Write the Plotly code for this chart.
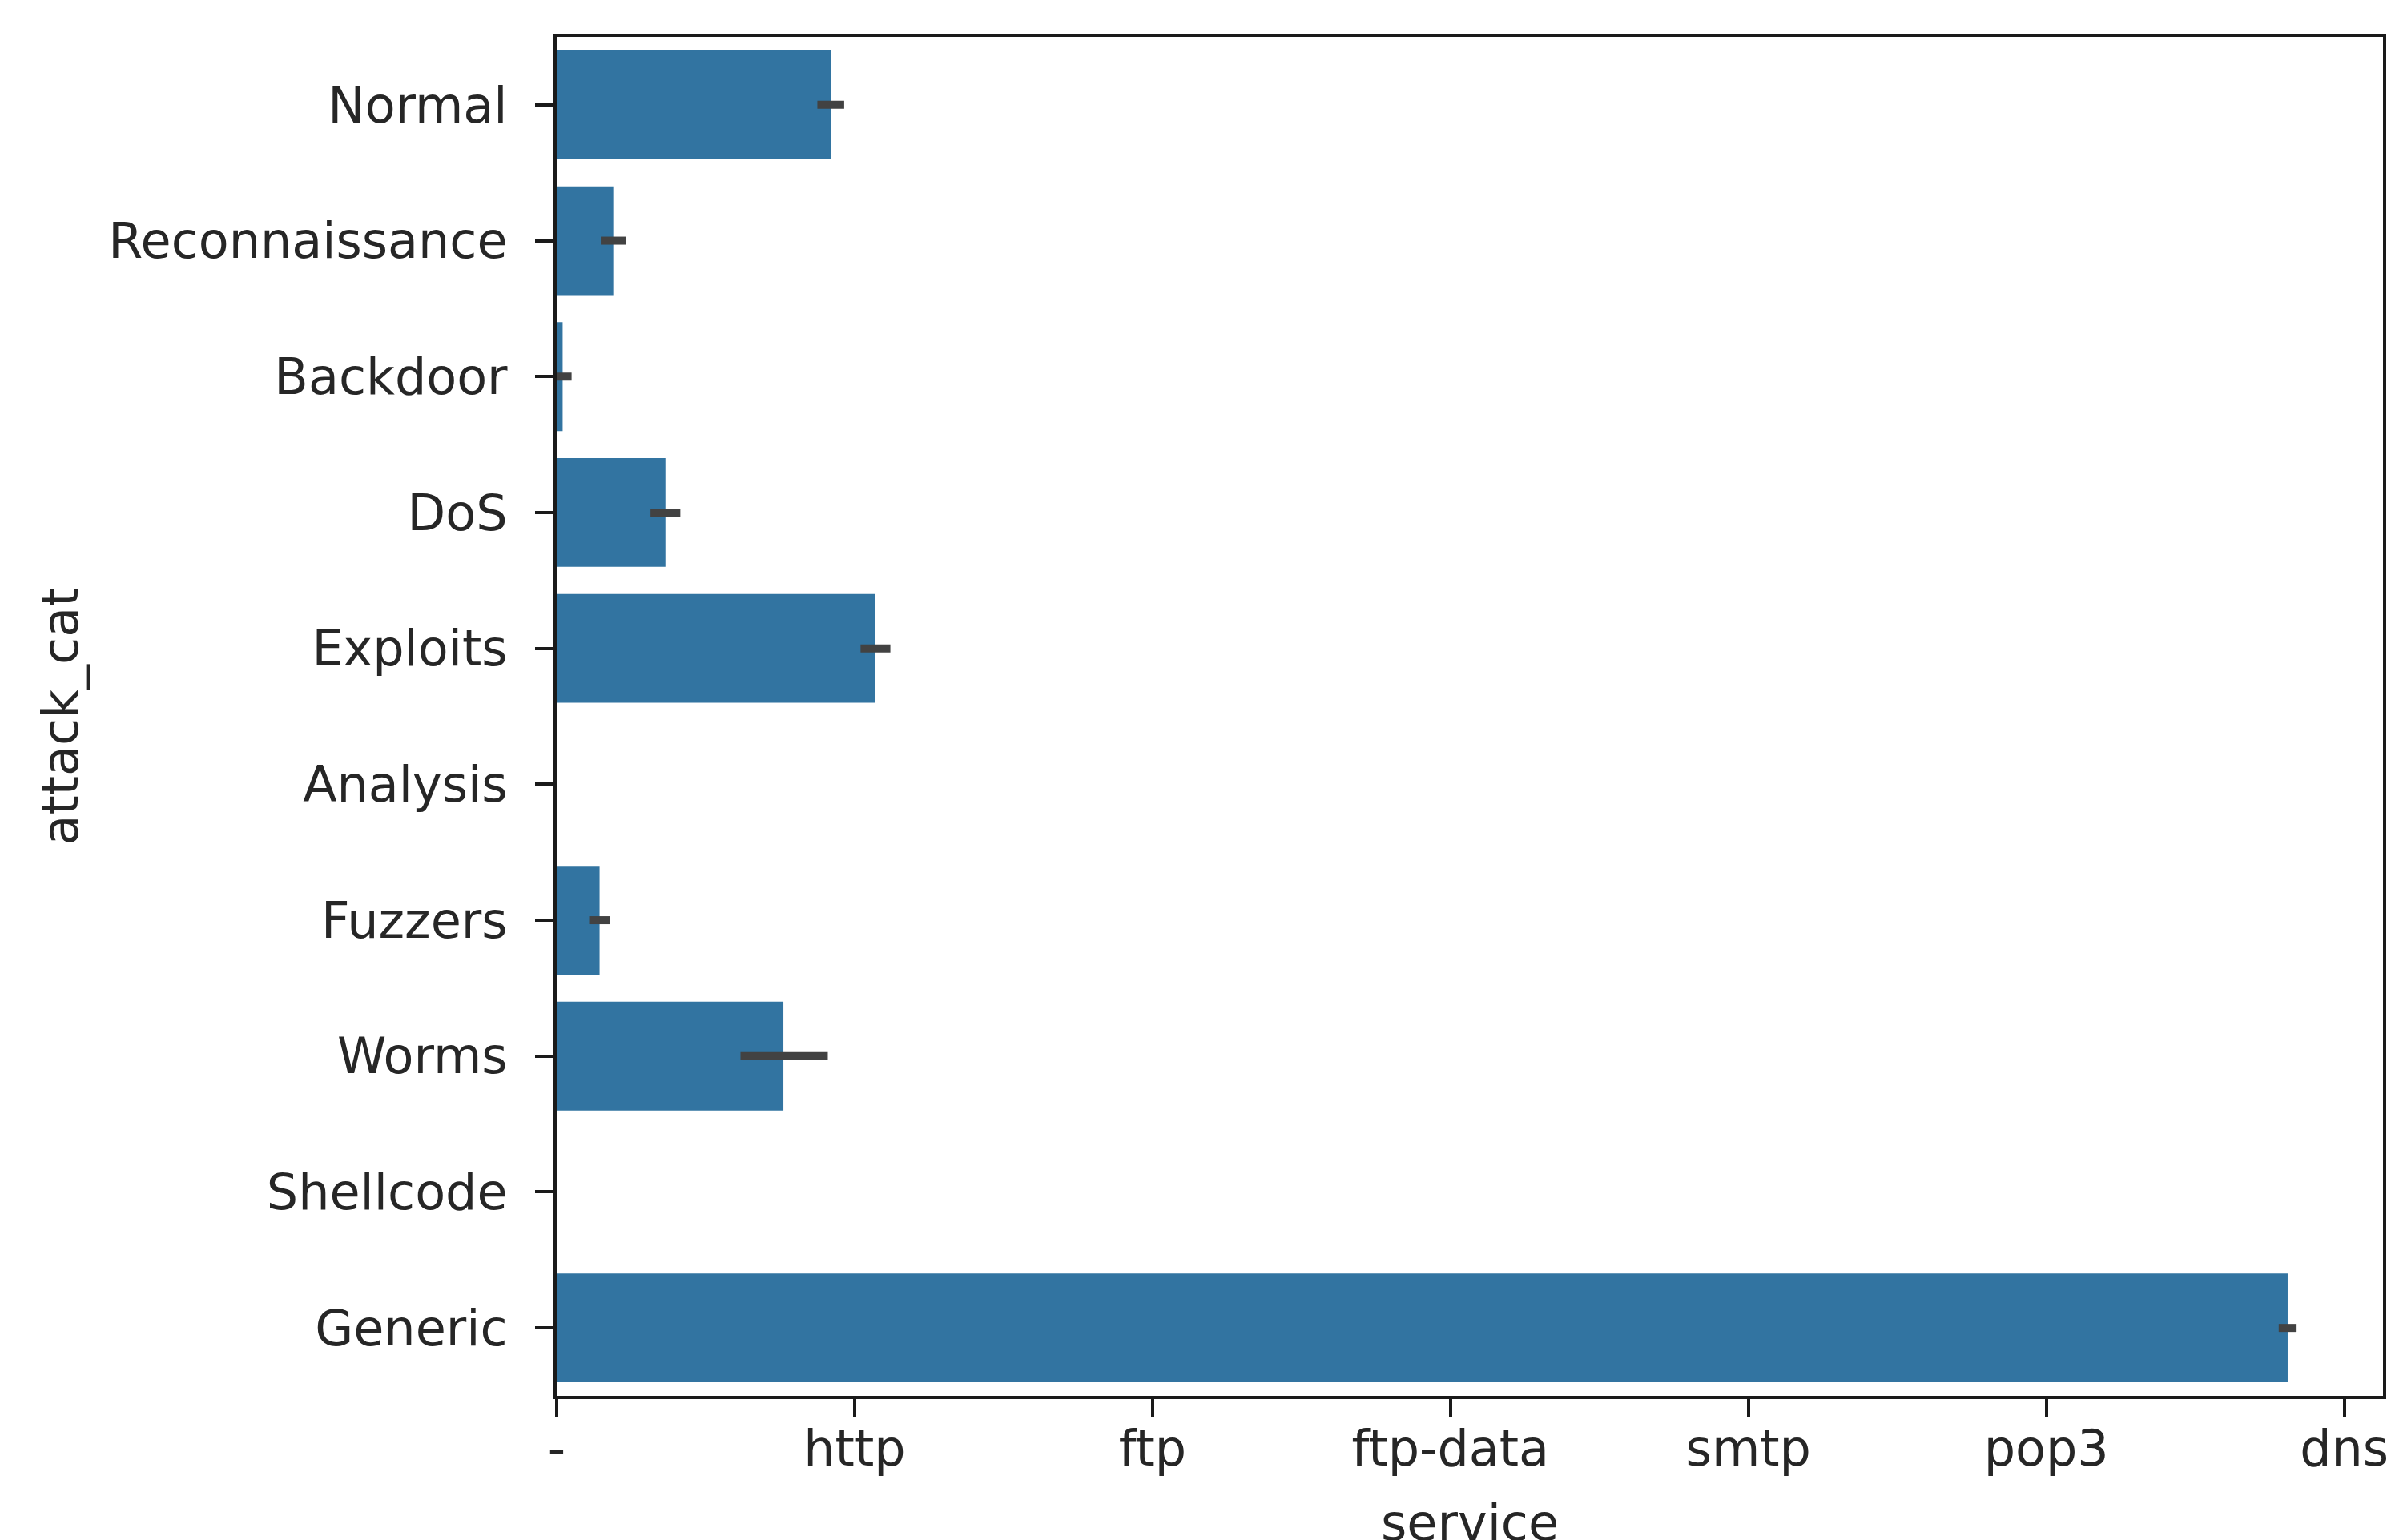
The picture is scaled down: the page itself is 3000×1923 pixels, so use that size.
import plotly.graph_objects as go

categories = ["Normal", "Reconnaissance", "Backdoor", "DoS", "Exploits",
              "Analysis", "Fuzzers", "Worms", "Shellcode", "Generic"]
means = [0.92, 0.19, 0.02, 0.365, 1.07, 0.0, 0.144, 0.761, 0.0, 5.81]
err_plus = [0.045, 0.042, 0.03, 0.05, 0.05, 0.0, 0.035, 0.149, 0.0, 0.03]
err_minus = [0.045, 0.042, 0.03, 0.05, 0.05, 0.0, 0.035, 0.144, 0.0, 0.03]
service_ticks = ["-", "http", "ftp", "ftp-data", "smtp", "pop3", "dns"]

W, H = 3000, 1923
L, R, T, B = 687, 33, 38, 188
pw, ph = W - L - R, H - T - B
FONT = "DejaVu Sans"
FS = 62

fig = go.Figure()
fig.add_trace(go.Bar(
    y=categories, x=means, orientation="h",
    marker=dict(color="#3274a1", line=dict(width=0)),
    error_x=dict(type="data", symmetric=False, array=err_plus, arrayminus=err_minus,
                 color="#424242", thickness=10, width=0),
))

fig.update_layout(
    width=W, height=H,
    margin=dict(l=L, r=R, t=T, b=B),
    plot_bgcolor="white", paper_bgcolor="white",
    bargap=0.2, showlegend=False,
    font=dict(family=FONT, size=FS, color="#262626"),
)
fig.update_xaxes(
    range=[0, 6.13], tickmode="array",
    tickvals=list(range(len(service_ticks))), ticktext=service_ticks,
    showgrid=False, zeroline=False,
    showline=True, linecolor="#1a1a1a", linewidth=4, mirror=True,
    ticks="outside", ticklen=23, tickwidth=4, tickcolor="#1a1a1a",
    ticklabelstandoff=-14,
)
fig.update_yaxes(
    categoryorder="array", categoryarray=categories, autorange="reversed",
    showgrid=False, zeroline=False,
    showline=True, linecolor="#1a1a1a", linewidth=4, mirror=True,
    ticks="outside", ticklen=23, tickwidth=4, tickcolor="#1a1a1a",
    ticklabelstandoff=22,
)
fig.add_annotation(text="attack_cat", xref="paper", yref="paper",
                   x=(67 - L) / pw, y=0.5, textangle=-90, showarrow=False,
                   xanchor="center", yanchor="middle", font=dict(size=FS))
fig.add_annotation(text="service", xref="paper", yref="paper",
                   x=0.5, y=(T + ph - 1894) / ph, showarrow=False,
                   xanchor="center", yanchor="middle", font=dict(size=FS))

fig.write_html("out.html")
